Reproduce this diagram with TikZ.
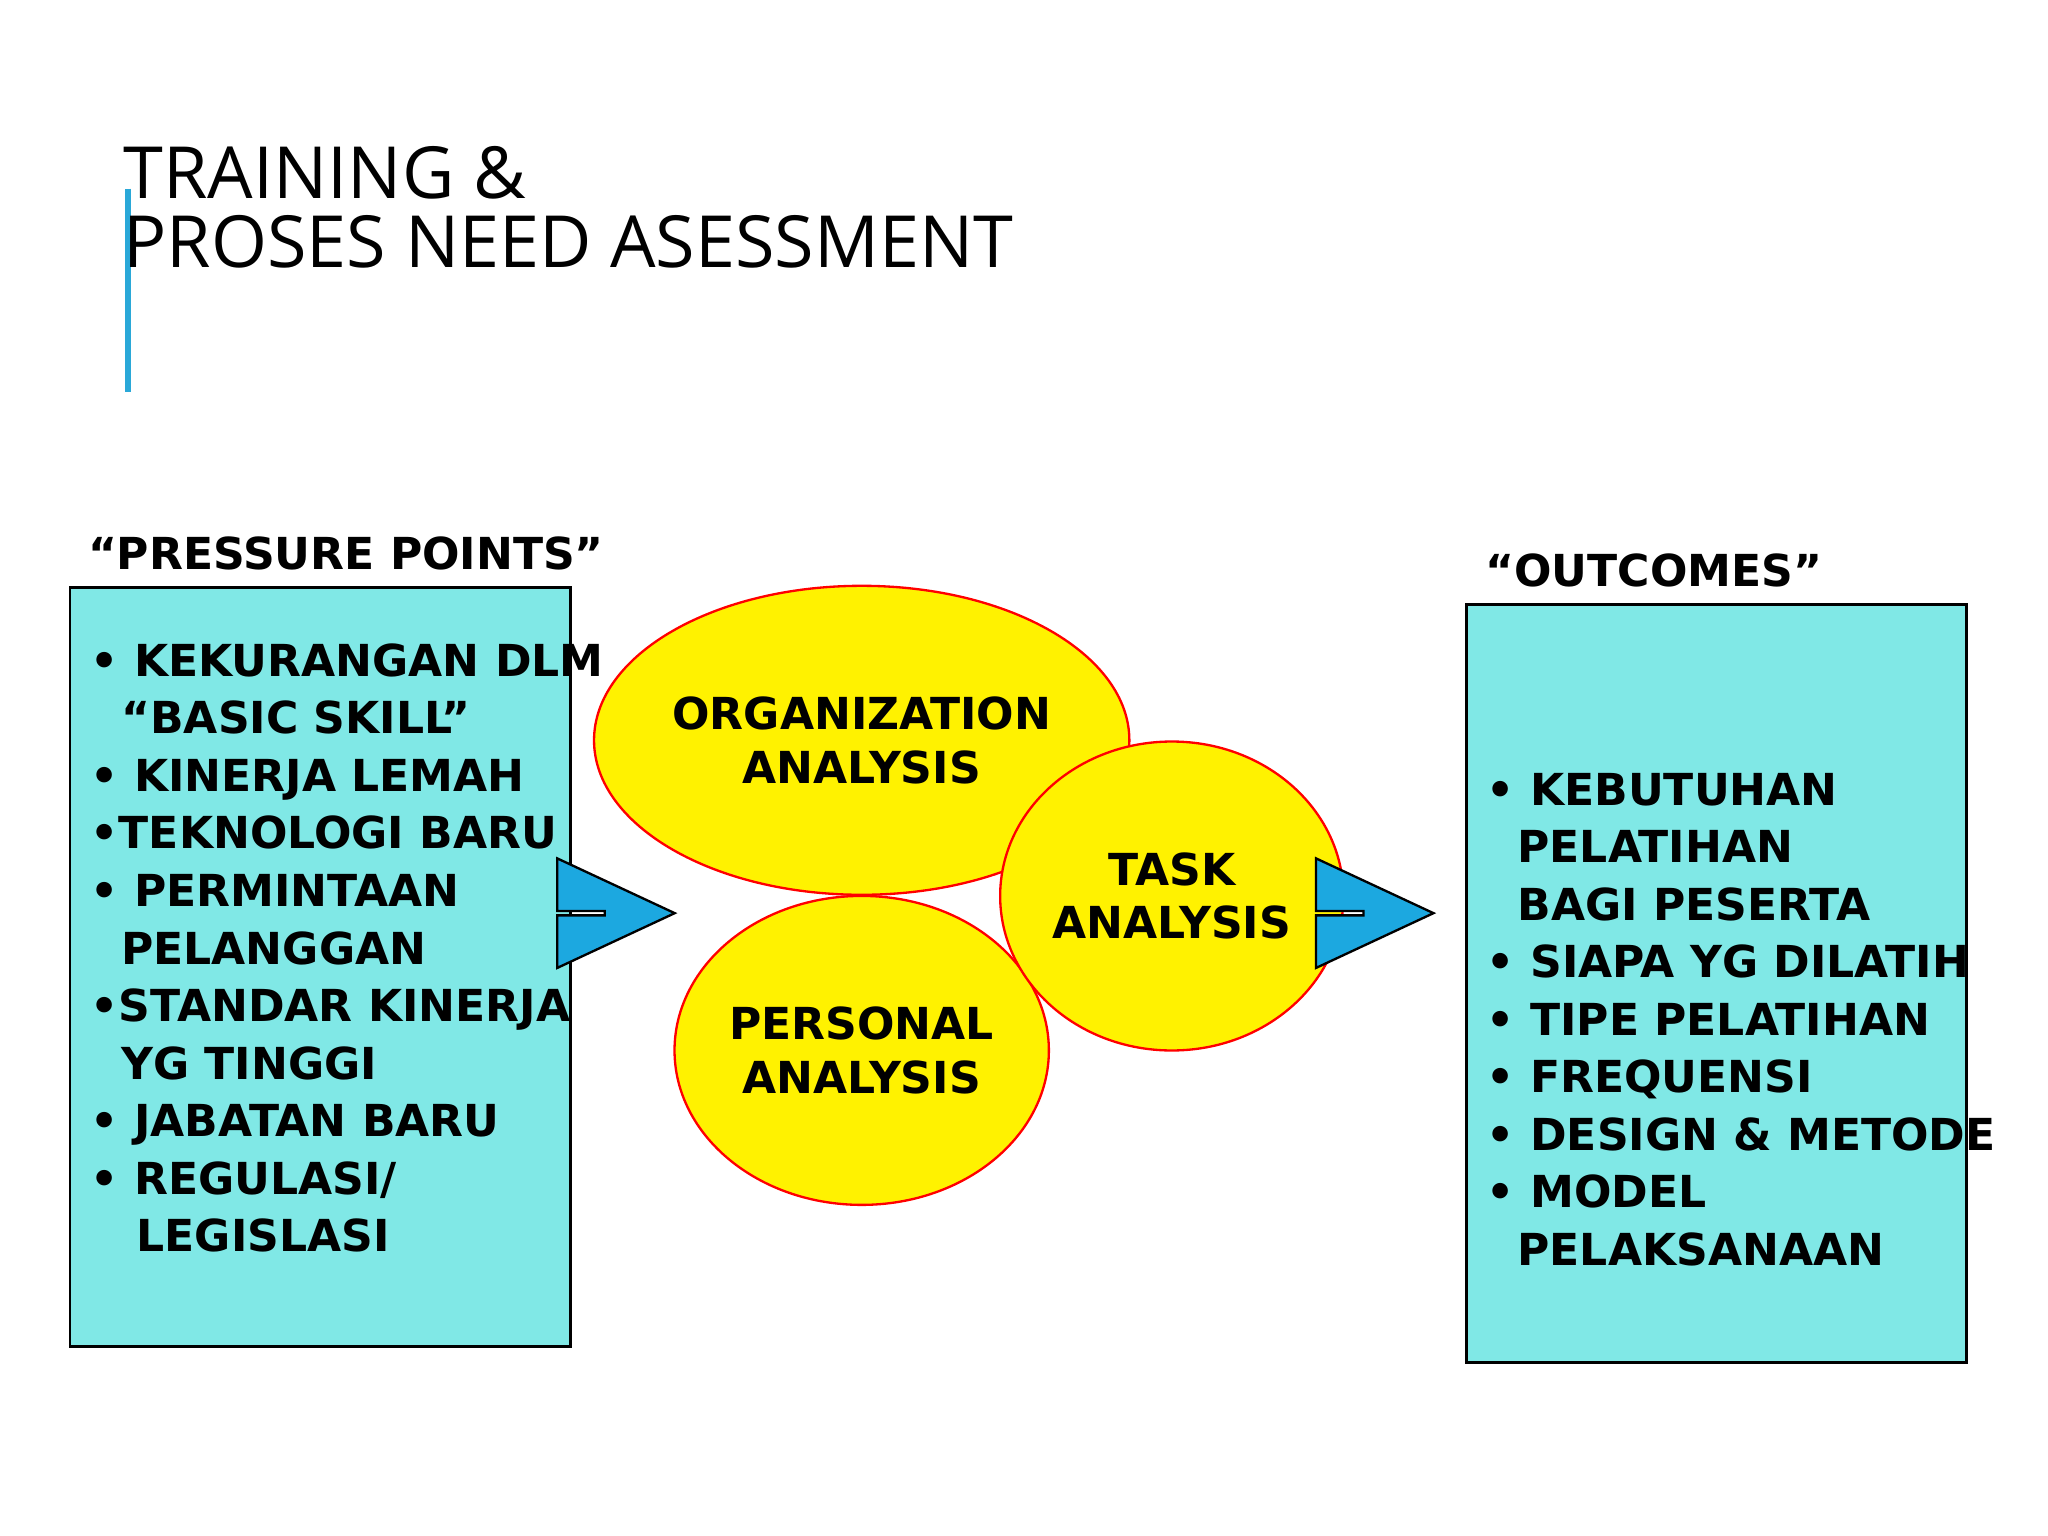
\documentclass[tikz,border=0pt]{standalone}
\usepackage{fontspec}
\setmainfont{DejaVu Sans}
\newfontfamily\titlefont{Open Sans}
\usetikzlibrary{shapes.geometric,shapes.arrows}
\definecolor{boxcyan}{HTML}{80E8E6}
\definecolor{arrblue}{HTML}{1CA8E0}
\definecolor{bar}{HTML}{2AA8D8}
\tikzset{
  panel/.style={draw=black,fill=boxcyan,line width=0.6pt,anchor=north west,inner sep=0pt},
  circ/.style={ellipse,draw=red,fill=yellow,line width=0.5pt,minimum width=2.6cm,minimum height=2.34cm,inner sep=0pt,align=center,font=\bfseries\fontsize{9.5}{11.5}\selectfont},
  body/.style={anchor=north west,align=left,font=\bfseries\fontsize{9.5}{12.4}\selectfont,inner sep=0pt},
  head/.style={anchor=south west,font=\bfseries\fontsize{9.5}{12}\selectfont,inner sep=0pt},
  barrow/.style={single arrow,draw=black,fill=arrblue,line width=0.5pt,minimum width=0.83cm,minimum height=0.53cm,single arrow head extend=0.21cm,single arrow tip angle=50,inner sep=0pt}
}
\begin{document}
\begin{tikzpicture}[x=0.01cm,y=-0.01cm]
\useasboundingbox (0,0) rectangle (1552,1164);
\draw[bar,line width=1.5pt] (97,143) coordinate (b1) -- (97,297) coordinate (b2);
\node[anchor=north west,inner sep=0pt,align=left,font=\titlefont\fontsize{15.5}{15}\selectfont] (title) at (93,110) {TRAINING \&\\PROSES NEED ASESSMENT};
\node[panel,minimum width=3.79cm,minimum height=5.75cm] (lbox) at (52,444) {};
\node[panel,minimum width=3.79cm,minimum height=5.74cm] (rbox) at (1110,457) {};
\node[head] (lh) at (66,433) {“PRESSURE POINTS”};
\node[head] (rh) at (1125,446) {“OUTCOMES”};
\node[body] (ltext) at (68,487) {• KEKURANGAN DLM\\\ \ “BASIC SKILL”\\• KINERJA LEMAH\\•TEKNOLOGI BARU\\• PERMINTAAN\\\ \ PELANGGAN\\•STANDAR KINERJA\\\ \ YG TINGGI\\• JABATAN BARU\\• REGULASI/\\\ \ \ LEGISLASI};
\node[body] (rtext) at (1126,585) {• KEBUTUHAN\\\ \ PELATIHAN\\\ \ BAGI PESERTA\\• SIAPA YG DILATIH\\• TIPE PELATIHAN\\• FREQUENSI\\• DESIGN \& METODE\\• MODEL\\\ \ PELAKSANAAN};
\node[circ] (org) at (653,561) {ORGANIZATION\\ANALYSIS};
\node[circ] (pers) at (653,796) {PERSONAL\\ANALYSIS};
\node[circ] (task) at (888,679) {TASK\\ANALYSIS};
\node[barrow] (a1) at (483,692) {};
\node[barrow] (a2) at (1058,692) {};
\end{tikzpicture}
\end{document}
